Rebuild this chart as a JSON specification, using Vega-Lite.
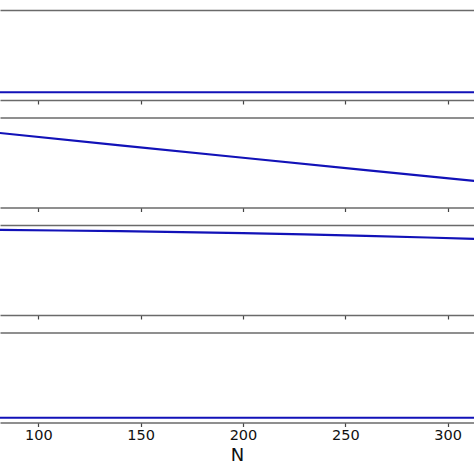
{
  "$schema": "https://vega.github.io/schema/vega-lite/v6.json",
  "padding": {"left": 0, "right": 0, "top": 10, "bottom": 0},
  "autosize": {"type": "pad"},
  "spacing": 17.5,
  "bounds": "flush",
  "datasets": {
    "p1": [{"N": 80, "v": 0.086}, {"N": 200, "v": 0.086}, {"N": 320, "v": 0.086}],
    "p2": [{"N": 80, "v": 0.831}, {"N": 140, "v": 0.691}, {"N": 200, "v": 0.553}, {"N": 260, "v": 0.415}, {"N": 320, "v": 0.281}],
    "p3": [{"N": 80, "v": 0.945}, {"N": 110, "v": 0.939}, {"N": 140, "v": 0.931}, {"N": 170, "v": 0.921}, {"N": 200, "v": 0.909}, {"N": 230, "v": 0.895}, {"N": 260, "v": 0.879}, {"N": 290, "v": 0.861}, {"N": 320, "v": 0.84}],
    "p4": [{"N": 80, "v": 0.053}, {"N": 200, "v": 0.053}, {"N": 320, "v": 0.053}]
  },
  "config": {
    "view": {"stroke": null},
    "font": "DejaVu Sans",
    "axis": {
      "grid": false,
      "domainColor": "#6a6a6a",
      "domainWidth": 1.5,
      "tickColor": "#444444",
      "tickWidth": 1.2,
      "tickSize": 4,
      "labelFont": "DejaVu Sans",
      "labelFontSize": 14.5,
      "labelColor": "#111111",
      "labelPadding": 1.5,
      "titleFont": "DejaVu Sans",
      "titleFontSize": 18,
      "titleFontWeight": "normal",
      "titleColor": "#111111",
      "titlePadding": 5
    }
  },
  "vconcat": [
    {
      "width": 474, "height": 90,
      "data": {"name": "p1"},
      "layer": [
        {"mark": {"type": "line", "color": "#1212b8", "strokeWidth": 2.2, "clip": true},
         "encoding": {
           "x": {"field": "N", "type": "quantitative", "scale": {"domain": [81.3, 312.85], "nice": false, "zero": false},
                 "axis": {"orient": "bottom", "values": [100, 150, 200, 250, 300], "labels": false, "title": null}},
           "y": {"field": "v", "type": "quantitative", "scale": {"domain": [0, 1], "nice": false}, "axis": null}}},
        {"mark": {"type": "line", "opacity": 0, "clip": true},
         "encoding": {
           "x": {"field": "N", "type": "quantitative", "axis": {"orient": "top", "ticks": false, "labels": false, "title": null}},
           "y": {"field": "v", "type": "quantitative", "axis": null}}}
      ],
      "resolve": {"axis": {"x": "independent"}}
    },
    {
      "width": 474, "height": 90,
      "data": {"name": "p2"},
      "layer": [
        {"mark": {"type": "line", "color": "#1212b8", "strokeWidth": 2.2, "clip": true},
         "encoding": {
           "x": {"field": "N", "type": "quantitative", "scale": {"domain": [81.3, 312.85], "nice": false, "zero": false},
                 "axis": {"orient": "bottom", "values": [100, 150, 200, 250, 300], "labels": false, "title": null}},
           "y": {"field": "v", "type": "quantitative", "scale": {"domain": [0, 1], "nice": false}, "axis": null}}},
        {"mark": {"type": "line", "opacity": 0, "clip": true},
         "encoding": {
           "x": {"field": "N", "type": "quantitative", "axis": {"orient": "top", "ticks": false, "labels": false, "title": null}},
           "y": {"field": "v", "type": "quantitative", "axis": null}}}
      ],
      "resolve": {"axis": {"x": "independent"}}
    },
    {
      "width": 474, "height": 90,
      "data": {"name": "p3"},
      "layer": [
        {"mark": {"type": "line", "color": "#1212b8", "strokeWidth": 2.2, "clip": true},
         "encoding": {
           "x": {"field": "N", "type": "quantitative", "scale": {"domain": [81.3, 312.85], "nice": false, "zero": false},
                 "axis": {"orient": "bottom", "values": [100, 150, 200, 250, 300], "labels": false, "title": null}},
           "y": {"field": "v", "type": "quantitative", "scale": {"domain": [0, 1], "nice": false}, "axis": null}}},
        {"mark": {"type": "line", "opacity": 0, "clip": true},
         "encoding": {
           "x": {"field": "N", "type": "quantitative", "axis": {"orient": "top", "ticks": false, "labels": false, "title": null}},
           "y": {"field": "v", "type": "quantitative", "axis": null}}}
      ],
      "resolve": {"axis": {"x": "independent"}}
    },
    {
      "width": 474, "height": 90,
      "data": {"name": "p4"},
      "layer": [
        {"mark": {"type": "line", "color": "#1212b8", "strokeWidth": 2.2, "clip": true},
         "encoding": {
           "x": {"field": "N", "type": "quantitative", "scale": {"domain": [81.3, 312.85], "nice": false, "zero": false},
                 "axis": {"orient": "bottom", "values": [100, 150, 200, 250, 300], "labels": true, "title": "N"}},
           "y": {"field": "v", "type": "quantitative", "scale": {"domain": [0, 1], "nice": false}, "axis": null}}},
        {"mark": {"type": "line", "opacity": 0, "clip": true},
         "encoding": {
           "x": {"field": "N", "type": "quantitative", "axis": {"orient": "top", "ticks": false, "labels": false, "title": null}},
           "y": {"field": "v", "type": "quantitative", "axis": null}}}
      ],
      "resolve": {"axis": {"x": "independent"}}
    }
  ]
}
